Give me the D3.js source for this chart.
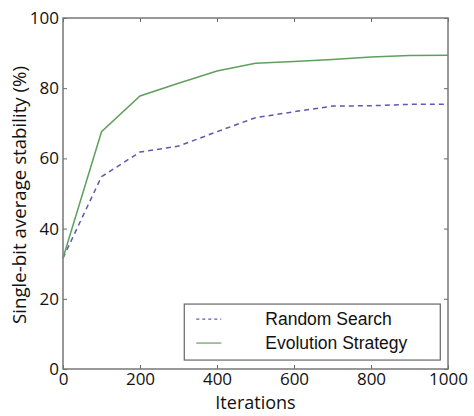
<!DOCTYPE html>
<html>
<head>
<meta charset="utf-8">
<script src="https://cdn.jsdelivr.net/npm/d3@7"></script>
<style>
  body { margin: 0; background: #fff; }
  text { font-family: "Open Sans", "DejaVu Sans", sans-serif; fill: #111; }
  .legend text { font-family: "Liberation Sans", Arial, sans-serif; }
</style>
</head>
<body>
<div id="chart"></div>
<script>
// data
var iterations = [0, 100, 200, 300, 400, 500, 600, 700, 800, 900, 1000]
var randomSearch = [31.6, 54.8, 61.8, 63.5, 67.6, 71.6, 73.3, 74.9, 75.0, 75.4, 75.4]
var evolutionStrategy = [31.6, 67.6, 77.8, 81.4, 84.9, 87.1, 87.6, 88.2, 88.9, 89.3, 89.4]
var xTicks = [0, 200, 400, 600, 800, 1000]
var yTicks = [0, 20, 40, 60, 80, 100]

var series = [
  { name: "Random Search", values: randomSearch, color: "#5a5aae", dash: "5,4" },
  { name: "Evolution Strategy", values: evolutionStrategy, color: "#5fa05f", dash: null }
]

var W = 474, H = 416
var margin = { top: 18, right: 26, bottom: 47, left: 63 }
var w = W - margin.left - margin.right
var h = H - margin.top - margin.bottom

var svg = d3.select("#chart").append("svg")
  .attr("width", W)
  .attr("height", H)

var g = svg.append("g")
  .attr("transform", `translate(${margin.left},${margin.top})`)

var x = d3.scaleLinear().domain([0, 1000]).range([0, w])
var y = d3.scaleLinear().domain([0, 100]).range([h, 0])

// ticks inward on all four sides (matplotlib style)
var tickLen = 4
var tickColor = "#666"

g.append("g")
  .attr("transform", `translate(0,${h})`)
  .call(d3.axisBottom(x).tickValues(xTicks).tickSize(-tickLen).tickPadding(4).tickFormat(d3.format("d")))
  .call(a => a.select(".domain").remove())
  .call(a => a.selectAll("line").attr("stroke", tickColor))
  .call(a => a.selectAll("text").style("font-size", "17px").attr("fill", "#111"))

g.append("g")
  .call(d3.axisTop(x).tickValues(xTicks).tickSize(-tickLen).tickFormat(""))
  .call(a => a.select(".domain").remove())
  .call(a => a.selectAll("line").attr("stroke", tickColor))

g.append("g")
  .call(d3.axisLeft(y).tickValues(yTicks).tickSize(-tickLen).tickPadding(4))
  .call(a => a.select(".domain").remove())
  .call(a => a.selectAll("line").attr("stroke", tickColor))
  .call(a => a.selectAll("text").style("font-size", "17px").attr("fill", "#111"))

g.append("g")
  .attr("transform", `translate(${w},0)`)
  .call(d3.axisRight(y).tickValues(yTicks).tickSize(-tickLen).tickFormat(""))
  .call(a => a.select(".domain").remove())
  .call(a => a.selectAll("line").attr("stroke", tickColor))

// frame
g.append("rect")
  .attr("width", w)
  .attr("height", h)
  .attr("fill", "none")
  .attr("stroke", "#777")
  .attr("stroke-width", 1.5)

var line = d3.line()
  .x((d, i) => x(iterations[i]))
  .y(d => y(d))

series.forEach(function (s) {
  g.append("path")
    .datum(s.values)
    .attr("d", line)
    .attr("fill", "none")
    .attr("stroke", s.color)
    .attr("stroke-width", 1.5)
    .attr("stroke-dasharray", s.dash)
})

// legend
var leg = g.append("g")
  .attr("class", "legend")
  .attr("transform", `translate(${x(315)},${y(18.5)})`)

leg.append("rect")
  .attr("width", 256)
  .attr("height", 56)
  .attr("fill", "#fff")
  .attr("stroke", "#666")
  .attr("stroke-width", 1.2)

series.forEach(function (s, i) {
  var yy = 15 + i * 24
  leg.append("line")
    .attr("x1", 12).attr("x2", 37)
    .attr("y1", yy).attr("y2", yy)
    .attr("stroke", s.color)
    .attr("stroke-width", 1.2)
    .attr("stroke-dasharray", s.dash ? "3,3" : null)
  leg.append("text")
    .attr("x", 81)
    .attr("y", yy + 6)
    .style("font-size", "17.5px")
    .text(s.name)
})

// axis titles
svg.append("text")
  .attr("x", margin.left + w / 2)
  .attr("y", 409)
  .attr("text-anchor", "middle")
  .style("font-size", "18px")
  .text("Iterations")

svg.append("text")
  .attr("transform", `translate(26,195) rotate(-90)`)
  .attr("text-anchor", "middle")
  .style("font-size", "18.7px")
  .text("Single-bit average stability (%)")
</script>
</body>
</html>
